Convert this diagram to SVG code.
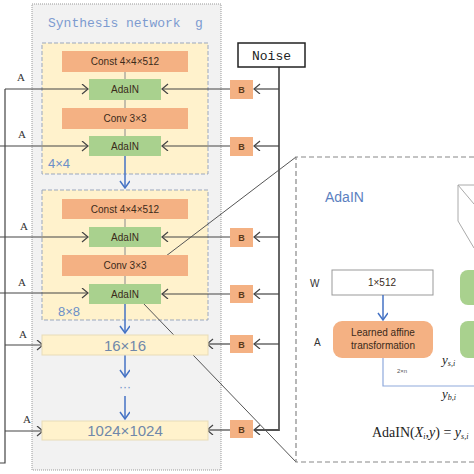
<svg xmlns="http://www.w3.org/2000/svg" width="474" height="474" viewBox="0 0 474 474">
<style>
.lbl{font-family:"Liberation Sans",Arial,sans-serif;font-size:10px;fill:#3a2a1a;text-anchor:middle}
.orange{fill:#f4b183}
.green{fill:#a9d18e}
.blk{fill:#fff2cc;stroke:#9aa7bd;stroke-width:1;stroke-dasharray:4 2}
.row{fill:#fff2cc;stroke:#e8dcb8;stroke-width:1}
.conn{stroke:#444;stroke-width:1.2;fill:none}
.noise{stroke:#666;stroke-width:2;fill:none}
.blue{stroke:#4472c4;stroke-width:1.5;fill:none}
.aT{font-family:"Liberation Serif",serif;font-size:11px;fill:#333}
.bT{font-family:"Liberation Sans",Arial,sans-serif;font-size:9px;font-weight:bold;fill:#5a3a1a;text-anchor:middle}
.res{font-family:"Liberation Sans",Arial,sans-serif;font-size:15px;fill:#7088aa;text-anchor:middle}
.math{font-family:"Liberation Serif",serif;font-style:italic;font-size:13px;fill:#222}
</style>
<defs>
<marker id="chev" markerUnits="userSpaceOnUse" markerWidth="10" markerHeight="12" refX="7" refY="5" orient="auto">
<path d="M1,0 L7,5 L1,10" fill="none" stroke="#444" stroke-width="1.2"/>
</marker>
<marker id="chevb" markerUnits="userSpaceOnUse" markerWidth="12" markerHeight="12" refX="8" refY="5" orient="auto">
<path d="M1,0 L8,5 L1,10" fill="none" stroke="#4472c4" stroke-width="1.5"/>
</marker>
</defs>

<g id="synthesis">
<rect x="32" y="4" width="189" height="466" fill="#f2f2f2" stroke="#999" stroke-width="1" stroke-dasharray="1 1"/>
<text x="48" y="27" font-family="'Liberation Mono',monospace" font-size="13" fill="#7d9bd0">Synthesis network</text>
<text x="195" y="27" font-family="'Liberation Mono',monospace" font-size="13" fill="#7d9bd0">g</text>
</g>

<g id="block4">
<rect class="blk" x="42" y="43" width="166" height="131"/>
<text x="48" y="168" font-family="'Liberation Sans',Arial,sans-serif" font-size="13" fill="#6b8fc8">4×4</text>
</g>
<g id="block8">
<rect class="blk" x="42" y="190" width="166" height="130"/>
<text x="58" y="316" font-family="'Liberation Sans',Arial,sans-serif" font-size="13" fill="#6b8fc8">8×8</text>
</g>

<g id="connectors">
<line x1="125" y1="72" x2="125" y2="136" stroke="#888" stroke-width="1"/>
<line x1="125" y1="219" x2="125" y2="284" stroke="#888" stroke-width="1"/>
<line class="blue" x1="125" y1="156" x2="125" y2="188" marker-end="url(#chevb)"/>
<line class="blue" x1="125" y1="304" x2="125" y2="333" marker-end="url(#chevb)"/>
<line class="blue" x1="125" y1="355" x2="125" y2="377" marker-end="url(#chevb)"/>
<line class="blue" x1="125" y1="396" x2="125" y2="419" marker-end="url(#chevb)"/>
<polyline class="conn" points="5,89 5,463 0,463"/>
<line class="conn" x1="5" y1="89" x2="88" y2="89" marker-end="url(#chev)"/>
<line class="conn" x1="0" y1="146" x2="88" y2="146" marker-end="url(#chev)"/>
<line class="conn" x1="0" y1="237" x2="88" y2="237" marker-end="url(#chev)"/>
<line class="conn" x1="0" y1="293" x2="88" y2="293" marker-end="url(#chev)"/>
<line class="conn" x1="5" y1="345" x2="43" y2="345" marker-end="url(#chev)"/>
<line class="conn" x1="5" y1="431" x2="43" y2="431" marker-end="url(#chev)"/>
<line class="conn" x1="230" y1="89" x2="162" y2="89" marker-end="url(#chev)"/>
<line class="conn" x1="230" y1="146" x2="162" y2="146" marker-end="url(#chev)"/>
<line class="conn" x1="230" y1="237" x2="162" y2="237" marker-end="url(#chev)"/>
<line class="conn" x1="230" y1="294" x2="162" y2="294" marker-end="url(#chev)"/>
<line class="conn" x1="230" y1="344" x2="207" y2="344" marker-end="url(#chev)"/>
<line class="conn" x1="230" y1="430" x2="207" y2="430" marker-end="url(#chev)"/>
<polyline class="noise" points="279,67 279,430 254,430"/>
<line class="conn" x1="279" y1="89" x2="254" y2="89" marker-end="url(#chev)"/>
<line class="conn" x1="279" y1="146" x2="254" y2="146" marker-end="url(#chev)"/>
<line class="conn" x1="279" y1="237" x2="254" y2="237" marker-end="url(#chev)"/>
<line class="conn" x1="279" y1="294" x2="254" y2="294" marker-end="url(#chev)"/>
<line class="conn" x1="279" y1="344" x2="254" y2="344" marker-end="url(#chev)"/>
<line class="conn" x1="279" y1="430" x2="254" y2="430" marker-end="url(#chev)"/>
<line x1="296" y1="157" x2="166" y2="256" stroke="#555" stroke-width="1"/>
<line x1="143" y1="303" x2="296" y2="462" stroke="#555" stroke-width="1"/>
</g>

<g id="const4"><rect class="orange" x="62" y="51" width="126" height="21"/><text class="lbl" x="125" y="65">Const 4×4×512</text></g>
<g id="adain4a"><rect class="green" x="89" y="79" width="72" height="21"/><text class="lbl" x="125" y="93">AdaIN</text></g>
<g id="conv4"><rect class="orange" x="62" y="108" width="126" height="21"/><text class="lbl" x="125" y="122">Conv 3×3</text></g>
<g id="adain4b"><rect class="green" x="89" y="136" width="72" height="20"/><text class="lbl" x="125" y="150">AdaIN</text></g>

<g id="const8"><rect class="orange" x="62" y="199" width="126" height="20"/><text class="lbl" x="125" y="213">Const 4×4×512</text></g>
<g id="adain8a"><rect class="green" x="89" y="227" width="72" height="20"/><text class="lbl" x="125" y="241">AdaIN</text></g>
<g id="conv8"><rect class="orange" x="62" y="255" width="126" height="21"/><text class="lbl" x="125" y="269">Conv 3×3</text></g>
<g id="adain8b"><rect class="green" x="89" y="284" width="72" height="20"/><text class="lbl" x="125" y="298">AdaIN</text></g>

<g id="r16"><rect class="row" x="42" y="335" width="166" height="20"/><text class="res" x="125" y="351">16×16</text></g>
<g id="dots"><text x="125" y="391" font-family="'Liberation Sans',Arial,sans-serif" font-size="12" fill="#6b8fc8" text-anchor="middle">···</text></g>
<g id="r1024"><rect class="row" x="42" y="421" width="166" height="19"/><text class="res" x="125" y="436">1024×1024</text></g>

<g id="Alabels">
<text class="aT" x="17" y="81">A</text>
<text class="aT" x="18" y="138">A</text>
<text class="aT" x="20" y="230">A</text>
<text class="aT" x="18" y="286">A</text>
<text class="aT" x="19" y="338">A</text>
<text class="aT" x="23" y="423">A</text>
</g>

<g id="B1"><rect class="orange" x="230" y="80" width="23" height="19"/><text class="bT" x="241.5" y="93">B</text></g>
<g id="B2"><rect class="orange" x="230" y="137" width="23" height="19"/><text class="bT" x="241.5" y="150">B</text></g>
<g id="B3"><rect class="orange" x="230" y="228" width="23" height="19"/><text class="bT" x="241.5" y="241">B</text></g>
<g id="B4"><rect class="orange" x="230" y="285" width="23" height="18"/><text class="bT" x="241.5" y="298">B</text></g>
<g id="B5"><rect class="orange" x="230" y="335" width="23" height="18"/><text class="bT" x="241.5" y="348">B</text></g>
<g id="B6"><rect class="orange" x="230" y="420" width="23" height="18"/><text class="bT" x="241.5" y="433">B</text></g>

<g id="noiseBox"><rect x="238" y="43" width="67" height="24" fill="#fff" stroke="#222" stroke-width="1.5"/><text x="271.5" y="60" font-family="'Liberation Mono',monospace" font-size="13" fill="#222" text-anchor="middle">Noise</text></g>

<g id="adainPanel">
<path d="M474,157 L296,157 L296,462 L474,462" fill="#fff" stroke="#888" stroke-width="1.2" stroke-dasharray="5 3"/>
<text x="325" y="202" font-family="'Liberation Sans',Arial,sans-serif" font-size="14" fill="#5b7fc0">AdaIN</text>
<path d="M474,185 L458,185 L458,221 L474,248 M458,185 L474,204" fill="none" stroke="#aaa" stroke-width="1"/>
<text x="310" y="287" font-family="'Liberation Sans',Arial,sans-serif" font-size="10" fill="#333">W</text>
<rect x="332" y="270" width="101" height="25" fill="#fff" stroke="#999" stroke-width="1"/>
<text class="lbl" x="382" y="286" fill="#333">1×512</text>
<line class="blue" x1="383" y1="295" x2="383" y2="320" stroke-width="1" marker-end="url(#chevb)"/>
<rect x="333" y="321" width="100" height="37" rx="9" fill="#f4b183"/>
<text class="lbl" x="383" y="336">Learned affine</text>
<text class="lbl" x="383" y="349">transformation</text>
<text x="314" y="346" font-family="'Liberation Sans',Arial,sans-serif" font-size="10" fill="#333">A</text>
<polyline points="383,358 383,386 474,386" fill="none" stroke="#8faadc" stroke-width="1.2"/>
<text x="397" y="373" font-family="'Liberation Sans',Arial,sans-serif" font-size="6" fill="#555">2×n</text>
<text class="math" x="442" y="364">y<tspan font-size="8" dy="2">s,i</tspan></text>
<text class="math" x="442" y="398">y<tspan font-size="8" dy="2">b,i</tspan></text>
<rect x="460" y="270" width="30" height="35" rx="8" fill="#a9d18e"/>
<rect x="460" y="321" width="30" height="37" rx="8" fill="#a9d18e"/>
<text x="372" y="437" font-family="'Liberation Serif',serif" font-size="14" fill="#222">AdaIN(<tspan font-style="italic">X</tspan><tspan font-size="8" dy="2" font-style="italic">i</tspan><tspan dy="-2">,</tspan><tspan font-style="italic">y</tspan>) = <tspan font-style="italic">y</tspan><tspan font-size="8" dy="2" font-style="italic">s,i</tspan></text>
</g>
</svg>
